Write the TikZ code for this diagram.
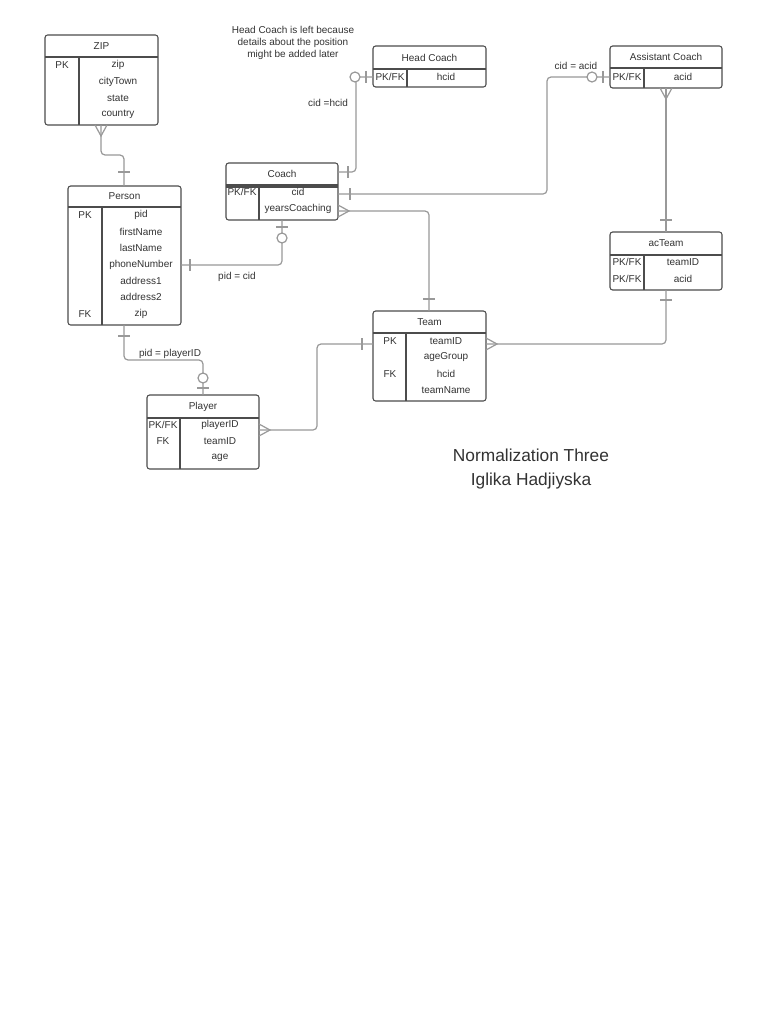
\documentclass[tikz,border=0pt]{standalone}
\usepackage{fontspec}
\setmainfont{Liberation Sans}
\begin{document}
\begin{tikzpicture}[x=0.75pt,y=-0.75pt,
  box/.style={draw=black!70,line width=0.8pt,rounded corners=2pt},
  sep/.style={draw=black!70,line width=0.8pt},
  conn/.style={draw=black!40,line width=0.9pt},
  txt/.style={font=\fontsize{7.5}{9}\selectfont,text=black!80,inner sep=0pt},
  lbl/.style={font=\fontsize{7.5}{9}\selectfont,text=black!80,inner sep=0pt},
  ring/.style={draw=black!40,line width=0.9pt,fill=white}]
\useasboundingbox[fill=white] (0,0) rectangle (768,1024);
% entity macro
\newcommand{\ent}[8]{% name x1 y1 x2 y2 hb divx title
  \draw[box] (#2,#3) rectangle (#4,#5);
  \draw[sep] (#2,#6) -- (#4,#6);
  \draw[sep] (#7,#6) -- (#7,#5);
  \node[txt] (#1) at ({(#2+#4)/2},{(#3+#6)/2}) {#8};}
\ent{zip}{45}{35}{158}{125}{57}{79}{ZIP}
\node[txt] at (62,65) {PK};
\foreach \t/\y in {zip/65,cityTown/82,state/98,country/114}\node[txt] at (118,\y) {\t};
\ent{person}{68}{186}{181}{325}{207}{102}{Person}
\node[txt] at (85,215) {PK};\node[txt] at (85,314) {FK};
\foreach \t/\y in {pid/215,firstName/232,lastName/248,phoneNumber/265,address1/281,address2/297,zip/314}\node[txt] at (141,\y) {\t};
\ent{coach}{226}{163}{338}{220}{185}{259}{Coach}
\draw[sep] (226,187) -- (338,187);
\node[txt] at (242,192) {PK/FK};
\node[txt] at (298,192) {cid};\node[txt] at (298,209) {yearsCoaching};
\ent{head}{373}{46}{486}{87}{69}{407}{Head Coach}
\node[txt] at (390,77) {PK/FK};\node[txt] at (446,77) {hcid};
\ent{asst}{610}{46}{722}{88}{68}{644}{Assistant Coach}
\node[txt] at (627,77) {PK/FK};\node[txt] at (683,77) {acid};
\ent{acteam}{610}{232}{722}{290}{255}{644}{acTeam}
\node[txt] at (627,262) {PK/FK};\node[txt] at (627,279) {PK/FK};
\node[txt] at (683,262) {teamID};\node[txt] at (683,279) {acid};
\ent{team}{373}{311}{486}{401}{333}{406}{Team}
\node[txt] at (390,341) {PK};\node[txt] at (390,374) {FK};
\foreach \t/\y in {teamID/341,ageGroup/357,hcid/374,teamName/390}\node[txt] at (446,\y) {\t};
\ent{player}{147}{395}{259}{469}{418}{180}{Player}
\node[txt] at (163,425) {PK/FK};\node[txt] at (163,441) {FK};
\foreach \t/\y in {playerID/425,teamID/441,age/458}\node[txt] at (220,\y) {\t};
% connectors
\draw[conn,rounded corners=3pt] (101,125) -- (101,155) -- (124,155) -- (124,186);
\draw[conn] (95,125) -- (101,136) -- (107,125); \draw[conn] (118,172) -- (130,172);
\draw[conn,rounded corners=3pt] (181,265) -- (282,265) -- (282,220);
\draw[conn] (190,259) -- (190,271); \draw[conn] (276,227) -- (288,227);
\draw[ring] (282,238) circle (5);
\node[lbl] at (237,277) {pid = cid};
\draw[conn,rounded corners=3pt] (338,172) -- (356,172) -- (356,77) -- (373,77);
\draw[conn] (348,166) -- (348,178); \draw[conn] (366,71) -- (366,83);
\draw[ring] (355,77) circle (5);
\node[lbl] at (328,103) {cid =hcid};
\draw[conn,rounded corners=3pt] (338,194) -- (547,194) -- (547,77) -- (610,77);
\draw[conn] (350,188) -- (350,200); \draw[conn] (603,71) -- (603,83);
\draw[ring] (592,77) circle (5);
\node[lbl] at (576,66) {cid = acid};
\draw[conn,rounded corners=3pt] (338,211) -- (429,211) -- (429,311);
\draw[conn] (338,205) -- (349,211) -- (338,217); \draw[conn] (423,299) -- (435,299);
\draw[conn] (666,88) -- (666,232);
\draw[conn] (660,88) -- (666,99) -- (672,88); \draw[conn] (660,220) -- (672,220);
\draw[conn,rounded corners=3pt] (666,290) -- (666,344) -- (486,344);
\draw[conn] (660,300) -- (672,300); \draw[conn] (486,338) -- (497,344) -- (486,350);
\draw[conn,rounded corners=3pt] (373,344) -- (317,344) -- (317,430) -- (259,430);
\draw[conn] (362,338) -- (362,350); \draw[conn] (259,424) -- (270,430) -- (259,436);
\draw[conn,rounded corners=3pt] (124,325) -- (124,360) -- (203,360) -- (203,395);
\draw[conn] (118,336) -- (130,336); \draw[conn] (197,388) -- (209,388);
\draw[ring] (203,378) circle (5);
\node[lbl] at (170,354) {pid = playerID};
\node[lbl,align=center] at (293,43) {Head Coach is left because\\details about the position\\might be added later};
\node[font=\fontsize{13}{18}\selectfont,text=black!80,align=center] at (531,469) {Normalization Three\\Iglika Hadjiyska};
\end{tikzpicture}
\end{document}
